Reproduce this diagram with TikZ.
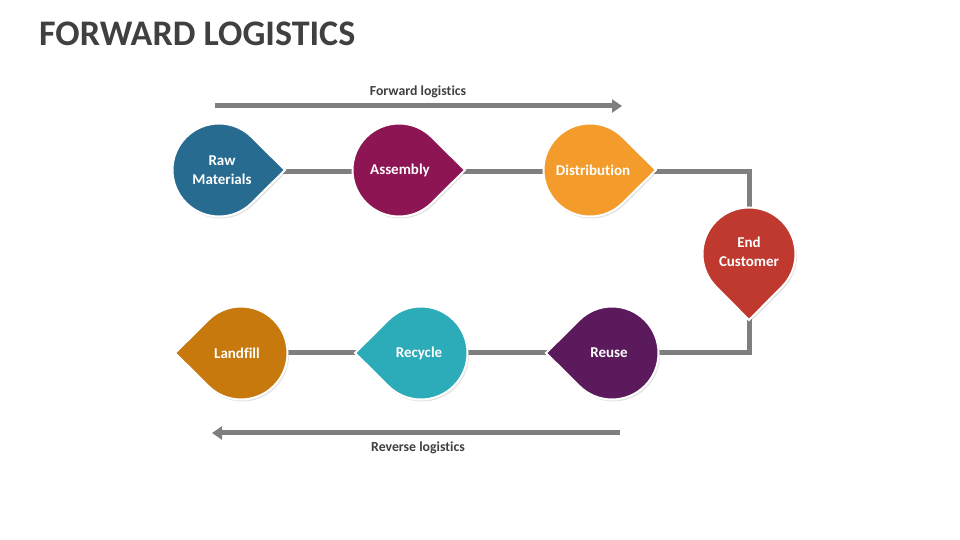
\documentclass[tikz,border=0pt]{standalone}
\usepackage{fontspec}
\setmainfont{Carlito}[Ligatures={NoCommon}]
\usetikzlibrary{shadows,arrows.meta}
\pgfdeclarelayer{back}\pgfdeclarelayer{bg}\pgfdeclarelayer{shapes}
\pgfsetlayers{back,bg,shapes,main}
\definecolor{cRaw}{HTML}{276B91}
\definecolor{cAsm}{HTML}{8E1553}
\definecolor{cDist}{HTML}{F39C2C}
\definecolor{cEnd}{HTML}{C0392F}
\definecolor{cReuse}{HTML}{5A1A5C}
\definecolor{cRec}{HTML}{2CABB8}
\definecolor{cLand}{HTML}{C7790E}
\definecolor{cLine}{HTML}{7F7F7F}
\definecolor{cText}{HTML}{404040}
\tikzset{
  lab/.style={text=white, font=\bfseries\fontsize{15}{19}\selectfont, align=center, inner sep=0pt},
  conn/.style={draw=cLine, line width=5pt},
  bigarrow/.style={draw=cLine, line width=5pt, -{Triangle[length=10pt,width=13pt]}},
  arrlab/.style={text=cText, font=\bfseries\fontsize{13.8}{16}\selectfont, inner sep=0pt},
  dropstyle/.style={draw=white, line width=2pt, drop shadow={shadow xshift=1.5pt, shadow yshift=-2pt, opacity=0.22}}
}
% #1 node, #2 tip direction, #3 colour, #4 offset of circle centre from node along direction
\newcommand{\teardrop}[4]{%
  \path[dropstyle, fill=#3]
    ([shift={(#2:#4pt)}, shift={(#2+45:46.5pt)}]#1.center)
      arc[start angle=#2+45, end angle=#2+315, radius=46.5pt]
    -- ([shift={(#2:#4pt)}, shift={(#2:66pt)}]#1.center) -- cycle;
}
\begin{document}
\begin{tikzpicture}[x=1pt,y=1pt]
\begin{pgfonlayer}{back}
\fill[white] (0,0) rectangle (960,540);
\end{pgfonlayer}
\useasboundingbox (0,0) rectangle (960,540);
% title
\node[anchor=base west, text=cText, font=\bfseries\fontsize{36}{40}\selectfont, inner sep=0pt] (title) at (39,494) {FORWARD LOGISTICS};
% nodes
\node[lab] (raw) at (222,370) {Raw\\Materials};
\node[lab] (asm) at (400,370) {Assembly};
\node[lab] (dist) at (593,370) {Distribution};
\node[lab] (endc) at (749,288) {End\\Customer};
\node[lab] (reuse) at (609,187) {Reuse};
\node[lab] (rec) at (419,187) {Recycle};
\node[lab] (land) at (237,187) {Landfill};
\begin{pgfonlayer}{shapes}
\teardrop{raw}{0}{cRaw}{-3}
\teardrop{asm}{0}{cAsm}{-1}
\teardrop{dist}{0}{cDist}{-3}
\teardrop{endc}{-90}{cEnd}{2}
\teardrop{reuse}{180}{cReuse}{-3}
\teardrop{rec}{180}{cRec}{-2}
\teardrop{land}{180}{cLand}{-4}
\end{pgfonlayer}
\begin{pgfonlayer}{bg}
\draw[conn] ([yshift=-2pt]raw.center) -- ([yshift=-2pt]asm.center);
\draw[conn] ([yshift=-2pt]asm.center) -- ([yshift=-2pt]dist.center);
\draw[conn] ([yshift=-2pt]dist.center) -| (endc.center);
\draw[conn] (endc.center) |- (reuse.center);
\draw[conn] (reuse.center) -- (rec.center);
\draw[conn] (rec.center) -- (land.center);
\end{pgfonlayer}
% logistics arrows
\coordinate (f1) at (215,434);
\coordinate (f2) at (622,434);
\draw[bigarrow] (f1) -- (f2);
\node[arrlab] (flab) at (418,448) {Forward logistics};
\coordinate (r1) at (620,107);
\coordinate (r2) at (212,107);
\draw[bigarrow] (r1) -- (r2);
\node[arrlab] (rlab) at (418,92) {Reverse logistics};
\end{tikzpicture}
\end{document}
